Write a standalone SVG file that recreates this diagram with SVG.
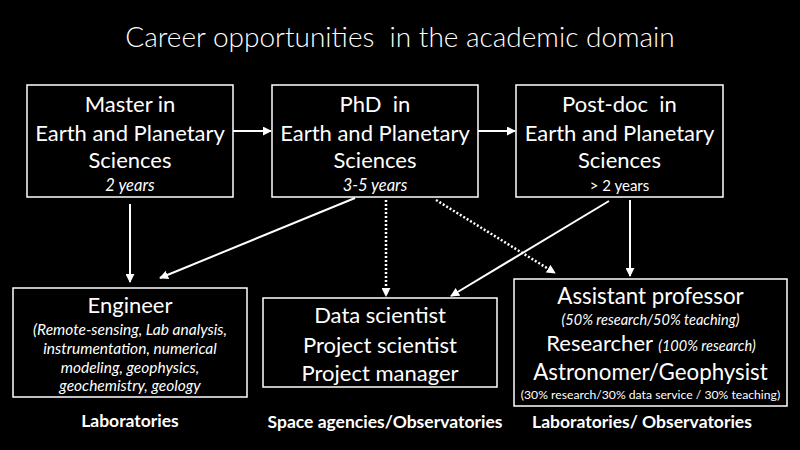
<svg xmlns="http://www.w3.org/2000/svg" width="800" height="450" viewBox="0 0 800 450">
<style>
.box{fill:#000;stroke:#fff;stroke-width:1.5}
.t{font-family:Lato,"Open Sans","Liberation Sans",sans-serif;fill:#fff;text-anchor:middle}
.big{font-size:22px}
.it{font-style:italic}
.lbl{font-weight:bold;font-size:17.5px}
.c{stroke:#fff;stroke-width:2;fill:none}
.d{stroke-dasharray:2 2;stroke-width:2.5}
</style>
<defs>
<marker id="ah" viewBox="0 0 10 10" refX="9" refY="5" markerWidth="9" markerHeight="9" markerUnits="userSpaceOnUse" orient="auto">
<path d="M0,0 L10,5 L0,10 z" fill="#fff"/>
</marker>
</defs>
<rect width="800" height="450" fill="#000"/>
<text class="t" x="400" y="47" font-size="28" font-weight="300" xml:space="preserve">Career opportunities  in the academic domain</text>

<g id="connectors">
<line class="c" x1="233" y1="131" x2="271" y2="131" marker-end="url(#ah)"/>
<line class="c" x1="478" y1="131" x2="515" y2="131" marker-end="url(#ah)"/>
<line class="c" x1="130" y1="204" x2="130" y2="282" marker-end="url(#ah)"/>
<line class="c" x1="355" y1="198" x2="160" y2="278" marker-end="url(#ah)"/>
<line class="c d" x1="386" y1="200" x2="386" y2="296" marker-end="url(#ah)"/>
<line class="c d" x1="436" y1="200" x2="555" y2="273" marker-end="url(#ah)"/>
<line class="c" x1="609" y1="201" x2="451" y2="296" marker-end="url(#ah)"/>
<line class="c" x1="630" y1="200" x2="630" y2="276" marker-end="url(#ah)"/>
</g>

<g id="master">
<rect class="box" x="27" y="85" width="206" height="112"/>
<text class="t big" x="130" y="112">Master in</text>
<text class="t big" x="130" y="141">Earth and Planetary</text>
<text class="t big" x="130" y="168">Sciences</text>
<text class="t it" x="130" y="191" font-size="16.5">2 years</text>
</g>

<g id="phd">
<rect class="box" x="272" y="85" width="206" height="112"/>
<text class="t big" x="375" y="112" xml:space="preserve">PhD  in</text>
<text class="t big" x="375" y="141">Earth and Planetary</text>
<text class="t big" x="375" y="168">Sciences</text>
<text class="t it" x="375" y="191" font-size="16.5">3-5 years</text>
</g>

<g id="postdoc">
<rect class="box" x="516" y="85" width="207" height="112"/>
<text class="t big" x="619.5" y="112" xml:space="preserve">Post-doc  in</text>
<text class="t big" x="619.5" y="141">Earth and Planetary</text>
<text class="t big" x="619.5" y="168">Sciences</text>
<text class="t" x="619.5" y="191" font-size="15">&gt; 2 years</text>
</g>

<g id="engineer">
<rect class="box" x="13" y="288" width="234" height="109"/>
<text class="t big" x="130" y="313">Engineer</text>
<text class="t it" x="130" y="335" font-size="15.5">(Remote-sensing, Lab analysis,</text>
<text class="t it" x="130" y="354" font-size="15.5">instrumentation, numerical</text>
<text class="t it" x="130" y="373" font-size="15.5">modeling, geophysics,</text>
<text class="t it" x="130" y="391" font-size="15.5">geochemistry, geology</text>
</g>
<text id="lab1" class="t lbl" x="130" y="427">Laboratories</text>

<g id="datasci">
<rect class="box" x="263" y="298" width="234" height="89"/>
<text class="t big" x="380" y="323">Data scientist</text>
<text class="t big" x="380" y="353">Project scientist</text>
<text class="t big" x="380" y="381">Project manager</text>
</g>
<text id="lab2" class="t lbl" x="385" y="428">Space agencies/Observatories</text>

<g id="academic">
<rect class="box" x="514" y="279" width="273" height="127"/>
<text class="t" x="650.5" y="304" font-size="22.3">Assistant professor</text>
<text class="t it" x="650.5" y="325" font-size="14.5">(50% research/50% teaching)</text>
<text class="t" x="651" y="351" font-size="22">Researcher <tspan class="it" font-size="14.5">(100% research)</tspan></text>
<text class="t" x="650.5" y="380" font-size="22.3">Astronomer/Geophysist</text>
<text class="t" x="650.5" y="399" font-size="12.2">(30% research/30% data service / 30% teaching)</text>
</g>
<text id="lab3" class="t lbl" x="642" y="428">Laboratories/ Observatories</text>
</svg>
